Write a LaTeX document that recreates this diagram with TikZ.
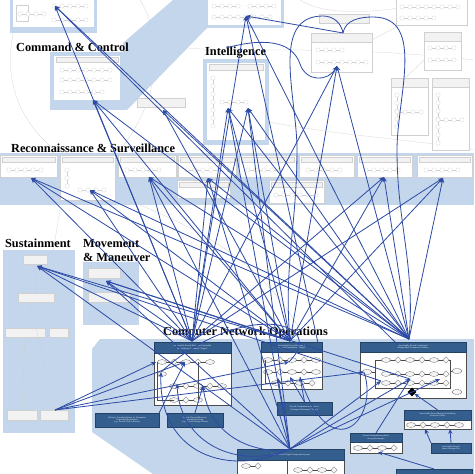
\documentclass[tikz,border=0pt]{standalone}
\usepackage{fontspec}
\setmainfont{Liberation Serif}
\usetikzlibrary{arrows.meta,shapes.geometric}
\definecolor{panel}{RGB}{196,214,236}
\definecolor{hdr}{RGB}{52,94,142}
\definecolor{lcol}{RGB}{45,75,165}
\definecolor{fnt}{RGB}{208,208,208}
\tikzset{
 lk/.style={draw=lcol, line width=1.15pt, -{Stealth[length=7pt,width=6pt]}},
 ln/.style={draw=lcol, line width=1.15pt},
 faint/.style={draw=fnt, line width=0.35pt},
 fbox/.style={fill=white, draw=fnt, line width=0.4pt},
 fhdr/.style={fill=gray!10, draw=fnt, line width=0.3pt},
 lab/.style={font=\bfseries\fontsize{17.5}{21}\selectfont, anchor=west, inner sep=0pt, text=black},
 hbox/.style={fill=hdr, draw=hdr!70!black, line width=0.3pt, text=white, font=\fontsize{3}{3.5}\selectfont, align=center, inner sep=0.3pt},
 wbody/.style={fill=white, draw=black!70, line width=0.4pt},
 dkl/.style={draw=black!70, line width=0.35pt},
 pics/frow/.style={code={\draw[faint] (0,0)--(#1,0); \foreach \i in {0,8,...,#1} \draw[faint,fill=white] (\i,0) circle (2.2);}},
 pics/fcol/.style={code={\draw[faint] (0,0)--(0,#1); \foreach \i in {0,8,...,#1} \draw[faint,fill=white] (0,\i) circle (2.2);}},
 pics/drow/.style={code={\draw[dkl] (0,0)--(#1,0); \foreach \i [count=\k] in {0,12,...,#1} {\ifodd\k \draw[dkl,fill=gray!8] (\i,0) ellipse (4.5 and 2.4); \else \draw[dkl,fill=gray!8] (\i-3.2,0)--(\i,-3.2)--(\i+3.2,0)--(\i,3.2)--cycle; \fi}}},
}
\begin{document}
\begin{tikzpicture}[x=0.5mm,y=-0.5mm]
\useasboundingbox (0,0) rectangle (474,474);
\fill[white] (0,0) rectangle (474,474);
% faint background curves
\draw[faint] (25,0) .. controls (0,50) and (5,110) .. (55,150);
\draw[faint] (140,0) .. controls (165,40) and (160,100) .. (120,150);
\draw[faint] (150,40) .. controls (200,60) and (300,40) .. (474,60);
\draw[faint] (260,120) .. controls (330,135) and (420,140) .. (474,150);
\draw[faint] (300,0) .. controls (330,20) and (400,10) .. (440,0);
\draw[faint] (60,210) .. controls (55,240) and (45,300) .. (40,330);
\draw[faint] (140,205) .. controls (200,230) and (260,260) .. (300,330);
% Command & Control
\fill[panel] (123,43) -- (173,0) -- (207,0) -- (207,28) -- (127,110) -- (123,110) -- cycle;
\fill[panel] (10,0) rectangle (97,33);
\fill[white] (13,0) rectangle (94,27);
\draw[faint] (16,5) rectangle (28,21);
\pic at (20,14) {frow=24}; \pic at (54,6) {frow=32}; \pic at (54,20) {frow=32};
\fill[panel] (50,52) rectangle (123,110);
\fill[white] (54,56) rectangle (120,100);
\draw[fhdr] (56,57) rectangle (118,62);
\pic at (62,70) {frow=48}; \pic at (62,80) {frow=48}; \pic at (62,92) {frow=40};
\draw[fhdr] (137,98) rectangle (185,107);
% top box
\fill[panel] (205,0) rectangle (284,28);
\fill[white] (208,0) rectangle (281,25);
\pic at (214,6) {frow=24}; \pic at (250,6) {frow=24}; \pic at (214,17) {frow=56};
% faint boxes top right
\draw[fhdr] (319,14) rectangle (369,23);
\draw[fbox] (311,33) rectangle (372,72); \draw[fhdr] (311,33) rectangle (372,42);
\pic at (318,50) {frow=24}; \pic at (318,62) {frow=48};
\draw[fbox] (396,-1) rectangle (467,25); \pic at (402,7) {frow=56}; \pic at (402,18) {frow=32};
\draw[fbox] (424,32) rectangle (461,70); \draw[fhdr] (424,32) rectangle (461,41);
\pic at (430,48) {frow=24}; \pic at (430,60) {frow=24};
\draw[fbox] (391,78) rectangle (428,135); \draw[fhdr] (391,78) rectangle (428,87);
\pic at (397,95) {fcol=32}; \pic at (397,112) {frow=24};
\draw[fbox] (432,78) rectangle (469,150); \draw[fhdr] (432,78) rectangle (469,87);
\pic at (438,95) {fcol=48}; \pic at (438,120) {frow=24};
\draw[faint] (400,25) -- (372,40); \draw[faint] (424,60) -- (405,78);
% Intelligence box
\fill[panel] (203,59) rectangle (269,145);
\fill[white] (207,63) rectangle (265,140);
\draw[fhdr] (209,64) rectangle (263,70);
\pic at (213,78) {fcol=48}; \pic at (222,102) {frow=24};
% Reconnaissance & Surveillance
\fill[panel] (0,153) rectangle (474,205);
\foreach \a/\b in {0/57,118/176,178/236,239/296,299/354,357/412,417/472} {
  \draw[fbox] (\a,155) rectangle (\b,177);
  \draw[fhdr] (\a+2,157) rectangle (\b-2,162);
  \pic at (\a+9,170) {frow=32};
}
\draw[fbox] (60,155) rectangle (115,200); \draw[fhdr] (62,157) rectangle (113,162);
\pic at (67,170) {fcol=16}; \pic at (80,190) {frow=24};
\draw[fbox] (177,180) rectangle (230,198); \draw[fhdr] (179,182) rectangle (228,187);
\draw[fbox] (269,180) rectangle (324,203); \draw[fhdr] (271,182) rectangle (322,187);
\pic at (276,195) {frow=40};
% Sustainment
\fill[panel] (3,250) rectangle (75,433);
\draw[fhdr] (23,255) rectangle (47,264);
\draw[fhdr] (18,293) rectangle (54,302);
\draw[fhdr] (5,328) rectangle (45,337); \draw[fhdr] (49,328) rectangle (68,337);
\draw[fhdr] (7,410) rectangle (37,420); \draw[fhdr] (40,410) rectangle (68,420);
\draw[faint] (35,264) -- (35,293); \draw[faint] (25,337) -- (22,410); \draw[faint] (30,302) -- (55,410);
% Movement & Maneuver
\fill[panel] (83,262) rectangle (139,325);
\draw[fhdr] (88,268) rectangle (120,278); \draw[fhdr] (88,292) rectangle (130,302);
% Computer Network Operations panel
\fill[panel] (100,339) -- (474,339) -- (474,474) -- (153,474) -- (92,432) -- (92,349) -- cycle;
% labels
\node[lab] (lcc) at (16,47.5) {Command \& Control};
\node[lab] (lint) at (205,52.5) {Intelligence};
\node[lab] (lrs) at (11,148) {Reconnaissance \& Surveillance};
\node[lab] (lsus) at (5,243) {Sustainment};
\node[lab, align=left] (lmm) at (83,250.5) {Movement\\\& Maneuver};
\node[lab] (lcno) at (163,333) {Computer Network Operations};
% CNO boxes
\draw[wbody] (154,353) rectangle (231,405);
\pic at (162,362) {drow=48}; \draw[dkl,fill=gray!8] (162,374) ellipse (4.5 and 2.4);
\pic at (174,386) {drow=48}; \pic at (174,400) {drow=24};
\draw[dkl] (157,362) -- (157,400) -- (174,400); \draw[dkl] (198,362) -- (198,400);
\node[hbox, minimum width=38.5mm, minimum height=5.5mm] (hA) at (192.5,347.5) {Successfully Provide Means for Unattended\\Manipulating Information ``Targets''};
\draw[wbody] (261,352) rectangle (322,389);
\pic at (268,360) {drow=48}; \pic at (268,372) {drow=48}; \pic at (276,383) {drow=36};
\draw[dkl] (265,360) -- (265,383) -- (276,383);
\node[hbox, minimum width=30.5mm, minimum height=5mm] (hB) at (291.5,347) {Successfully Process Requests \&\\Manage the Information ``Targets''};
\draw[wbody] (360,352) rectangle (466,398);
\draw[dkl] (375,360) rectangle (450,388);
\pic at (386,360) {drow=60}; \pic at (386,374) {drow=60}; \pic at (386,383) {drow=60};
\draw[dkl,fill=gray!8] (367,372) ellipse (5 and 2.6); \draw[dkl,fill=gray!8] (457,371) ellipse (5 and 2.6);
\draw[dkl,fill=gray!8] (457,392) ellipse (5 and 2.6);
\draw[dkl] (372,372) -- (375,372); \draw[dkl] (450,371) -- (452,371);
\node[hbox, minimum width=53mm, minimum height=5mm] (hC) at (413,347) {Successfully Provide Coordinated\\Manage Battle Command Condition};
\node[diamond, fill=black, draw=black, minimum size=4.2mm, inner sep=0pt] (dm) at (412,392) {};
\node[hbox, minimum width=27.5mm, minimum height=6.5mm] (hD) at (304.5,408.5) {Provide Compensation Actions for\\Contingent Information ``Targets''};
\draw[wbody] (404,420) rectangle (471,429); \pic at (411,425) {drow=48};
\node[hbox, minimum width=33.5mm, minimum height=5mm] (hE) at (437.5,415) {Successfully Protect Message From Being\\Viewed by Others};
\node[hbox, minimum width=20mm, minimum height=5mm] (hF) at (451,448) {Successfully Encode\\Source Message Text};
\draw[wbody] (350,442) rectangle (402,453); \pic at (358,448) {drow=36};
\node[hbox, minimum width=26mm, minimum height=4.5mm] (hG) at (376,437.5) {Provide Encapsulation path for\\encrypted messages};
\draw[wbody] (237,460) rectangle (344,476);
\pic at (246,466) {drow=12}; \pic at (298,470) {drow=36}; \draw[dkl] (287,460) -- (287,476);
\node[hbox, minimum width=53.5mm, minimum height=5.5mm] (hH) at (290.5,454.5) {Provide ``Local'' Digital Compromise System};
\node[hbox, minimum width=38mm, minimum height=3.5mm, anchor=north west] (hI) at (396,469) {};
\node[hbox, minimum width=32mm, minimum height=7mm] (hJ) at (127,420) {Ability to Coordinate Means for Information\\Unattended Manipulation\\(e.g., Provide Tech to Recruit)};
\node[hbox, minimum width=28mm, minimum height=7mm] (hK) at (195,420) {Provide Physical Means for\\Information Storage\\(e.g., Provide Wiring Cabinet)};
% hubs
\coordinate (S1) at (192,341); \coordinate (S2) at (290,341); \coordinate (S2b) at (318,343);
\coordinate (S3) at (409,339); \coordinate (S3b) at (398,345); \coordinate (S4) at (290,449);
\coordinate (S5) at (55,410);
\coordinate (C1) at (381,381); \coordinate (C2) at (410,379); \coordinate (C3) at (440,379);
\coordinate (T1) at (55,6); \coordinate (T2) at (93,100); \coordinate (T3) at (163,110);
\coordinate (T4) at (228,108); \coordinate (T5) at (246,16); \coordinate (T6) at (248,108);
\coordinate (T7) at (337,66); \coordinate (T8) at (31,178); \coordinate (T9) at (90,190);
\coordinate (T10) at (149,177); \coordinate (T11) at (208,178); \coordinate (T12) at (384,177);
\coordinate (T13) at (443,178); \coordinate (T14) at (37,266); \coordinate (T15) at (106,281);
\coordinate (cusp) at (343,33); \coordinate (ic) at (226,48);
% connectors
\foreach \s/\t in {S1/T1,S3/T1,S3b/T1,S1/T2,S2/T2,S3/T2,S2/T3,S3/T3,S1/T4,S2/T4,S3/T4,S4/T4,
  S1/T5,S3/T5,S2b/T5,S1/T6,S2/T6,S3/T6,S4/T6,S1/T7,S2/T7,S3/T7,S1/T8,S2/T8,S3/T8,
  S1/T9,S2/T9,S3/T9,S1/T10,S2/T10,S3/T10,S4/T10,S1/T11,S3/T11,S4/T11,S1/T12,S2/T12,S3/T12,
  S1/T13,S2/T13,S3/T13,S1/T14,S2/T14,C1/T14,S4/T14,S1/T15,S2/T15,C2/T15,S4/T15}
  \draw[lk] (\s) -- (\t);
\draw[ln] (S2) to[out=95,in=-90] (297,150) to[out=90,in=180] (323,16) to[out=0,in=100] (cusp);
\draw[ln] (cusp) to[out=80,in=180] (373,17) to[out=0,in=90] (397,150) to[out=-90,in=85] (S3);
\draw[lk] (cusp) -- (T5);
\draw[lk] (ic) .. controls (262,38) and (292,40) .. (300,64) .. controls (306,82) and (328,82) .. (T7);
% internal CNO connectors
\coordinate (A1) at (156,362); \coordinate (A2) at (185,362); \coordinate (A3) at (177,384);
\coordinate (A4) at (161,372); \coordinate (A5) at (203,386);
\coordinate (B1) at (278,378); \coordinate (B2) at (290,377); \coordinate (B3) at (300,377);
\coordinate (B4) at (289,362); \coordinate (C0) at (364,372);
\coordinate (E1) at (450,429); \coordinate (E2) at (425,429); \coordinate (G1) at (378,452);
\draw[lk] (S5) -- (A1); \draw[lk] (S5) -- (A2); \draw[lk] (S5) -- (C0); \draw[lk] (S5) -- (B4);
\draw[lk] (hJ.north east) -- (A2); \draw[lk] (hK.north) -- (A5);
\draw[lk] (hD.north) -- (B2); \draw[lk] (hD.north) -- (B3); \draw[lk] (S4) -- (B1);
\draw[lk] (S4) -- (C1); \draw[lk] (S4) -- (C2); \draw[lk] (S4) -- (C3);
\draw[lk] (hE.north) -- (dm); \draw[lk] (hF.north) -- (E1); \draw[lk] (hF.north west) -- (E2);
\draw[lk] (hI.north) -- (G1); \draw[ln] (hG.north) -- (C2);
\draw[lk] (S4) .. controls (230,478) and (158,455) .. (A4);
\draw[lk] (S4) .. controls (240,470) and (180,445) .. (A3);
\draw[lk] (S4) .. controls (260,455) and (210,440) .. (A5);
\draw[ln] (A4) .. controls (240,300) and (330,320) .. (B4);
\draw[ln] (B3) .. controls (330,470) and (380,420) .. (C0);
\end{tikzpicture}
\end{document}
